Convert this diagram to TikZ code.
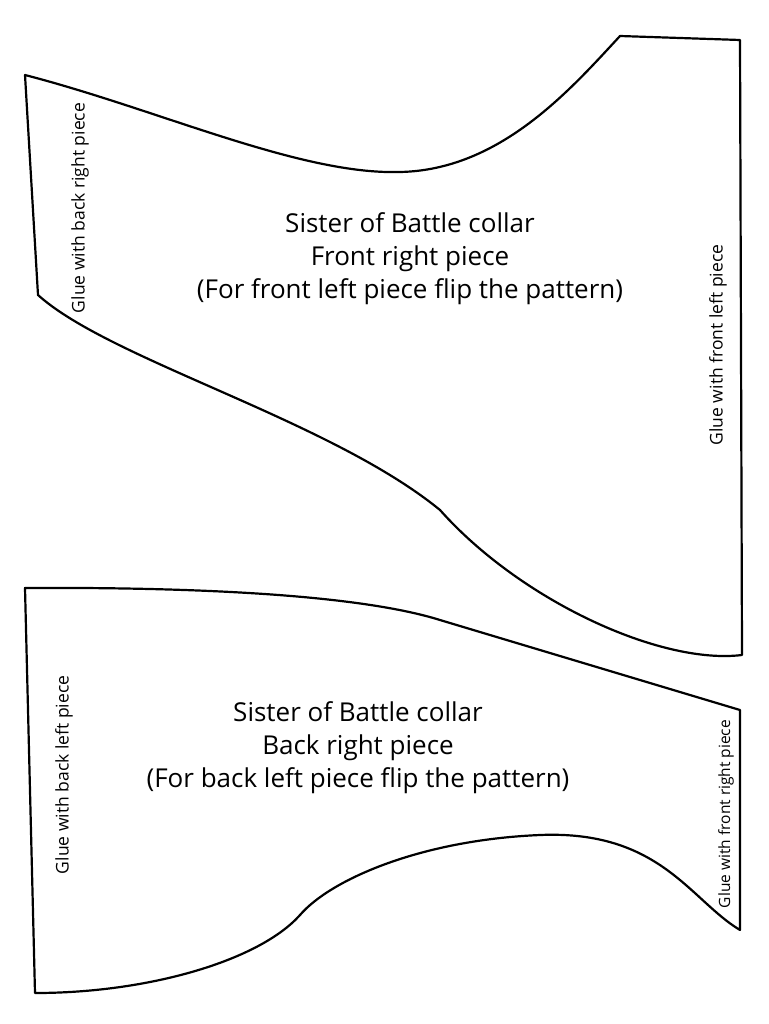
\documentclass[tikz,border=0pt]{standalone}
\usepackage{fontspec}
\setmainfont{Open Sans}
\begin{document}
\begin{tikzpicture}[x=1pt,y=-1pt,
  outline/.style={draw,line width=2.2pt,line join=round},
  big/.style={font=\fontsize{26}{33}\selectfont,align=center},
  side/.style={font=\fontsize{17.5}{20}\selectfont,rotate=90}]
\useasboundingbox (0,0) rectangle (768,1024);
% top piece
\draw[outline] (25,75) .. controls (160,110) and (300,175) .. (400,172)
  .. controls (500,170) and (570,90) .. (620,36)
  -- (740,40) -- (742,655)
  .. controls (660,665) and (520,600) .. (440,510)
  .. controls (330,420) and (110,360) .. (38,295) -- cycle;
% bottom piece
\draw[outline] (25,588) .. controls (200,587) and (360,595) .. (440,620)
  -- (740,710) -- (740,930)
  .. controls (690,900) and (660,830) .. (540,835)
  .. controls (420,840) and (330,880) .. (300,915)
  .. controls (260,960) and (150,993) .. (35,993) -- cycle;
\node[big] (t1) at (410,259) {Sister of Battle collar\\Front right piece\\(For front left piece flip the pattern)};
\node[big] (t2) at (358,748) {Sister of Battle collar\\Back right piece\\(For back left piece flip the pattern)};
\node[side] (s1) at (80,208) {Glue with back right piece};
\node[side] (s2) at (718,345) {Glue with front left piece};
\node[side] (s3) at (64,775) {Glue with back left piece};
\node[side,font=\fontsize{15.5}{18}\selectfont] (s4) at (726,814) {Glue with front right piece};
\end{tikzpicture}
\end{document}
